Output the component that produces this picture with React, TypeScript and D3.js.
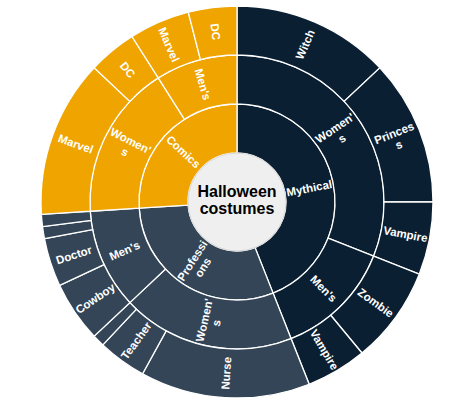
import { useMemo } from "react";
import * as d3 from "d3";

// costume counts (share of 100)
const costumeThemes = ["Mythical", "Mythical", "Mythical", "Mythical", "Mythical", "Professions", "Professions", "Professions", "Professions", "Professions", "Professions", "Professions", "Comics", "Comics", "Comics", "Comics"];
const costumeGenders = ["Women's", "Women's", "Women's", "Men's", "Men's", "Women's", "Women's", "Women's", "Men's", "Men's", "Men's", "Men's", "Women's", "Women's", "Men's", "Men's"];
const costumeNames = ["Witch", "Princess", "Vampire", "Zombie", "Vampire", "Nurse", "Teacher", "Other", "Cowboy", "Doctor", "Other", "Other", "Marvel", "DC", "Marvel", "DC"];
const costumeCounts = [13, 12, 6, 8, 5, 14, 4, 1, 5, 4, 1, 1, 13, 4, 5, 4];

const themeColors: Record<string, string> = {
  Mythical: "#0b1f33",
  Professions: "#334556",
  Comics: "#f0a400",
};

const title = ["Halloween", "costumes"];

const W = 469;
const H = 409;
const cx = 237;
const cy = 202;
const ring = 49;
const fontSize = 11.5;
const lineH = 12.5;
const maxLabel = 47;

type Costume = { theme: string; gender: string; name: string; value: number };

function wrapLabel(text: string, measure: (s: string) => number) {
  const lines: string[] = [];
  let cur = "";
  for (const ch of text) {
    if (cur && measure(cur + ch) > maxLabel) {
      lines.push(cur);
      cur = ch;
    } else cur += ch;
  }
  if (cur) lines.push(cur);
  return lines;
}

export default function App() {
  const nodes = useMemo(() => {
    const rows: Costume[] = costumeNames.map((name, i) => ({
      theme: costumeThemes[i],
      gender: costumeGenders[i],
      name,
      value: costumeCounts[i],
    }));
    const grouped = d3.group(rows, (d) => d.theme, (d) => d.gender);
    const root = d3
      .hierarchy<any>(grouped)
      .sum((d) => (Array.isArray(d) ? 0 : d.value));
    d3.partition<any>().size([2 * Math.PI, 4])(root);
    return root.descendants().filter((d) => d.depth > 0);
  }, []);

  const measure = useMemo(() => {
    const ctx = document.createElement("canvas").getContext("2d")!;
    ctx.font = `bold ${fontSize}px "Liberation Sans", Arial, sans-serif`;
    return (s: string) => ctx.measureText(s).width;
  }, []);

  const arc = d3
    .arc<any>()
    .startAngle((d) => d.x0)
    .endAngle((d) => d.x1)
    .innerRadius((d) => d.y0 * ring)
    .outerRadius((d) => d.y1 * ring);

  const nameOf = (d: any) => (Array.isArray(d.data) ? d.data[0] : d.data.name);
  const themeOf = (d: any) => {
    let n = d;
    while (n.depth > 1) n = n.parent;
    return nameOf(n);
  };

  return (
    <svg
      width={W}
      height={H}
      style={{ position: "absolute", left: 0, top: 0, background: "#fff" }}
      fontFamily='"Liberation Sans", Arial, sans-serif'
    >
      <g transform={`translate(${cx},${cy})`}>
        {nodes.map((d, i) => (
          <path
            key={i}
            d={arc(d) ?? ""}
            fill={themeColors[themeOf(d)]}
            stroke="#fff"
            strokeWidth={1.3}
          />
        ))}
        {nodes.map((d: any, i) => {
          const lines = wrapLabel(nameOf(d), measure);
          const mid = (d.x0 + d.x1) / 2;
          const rMid = ((d.y0 + d.y1) / 2) * ring;
          const arcLen = (d.x1 - d.x0) * rMid;
          if (arcLen < lines.length * lineH) return null;
          const deg = (mid * 180) / Math.PI;
          return (
            <text
              key={i}
              transform={`rotate(${deg - 90}) translate(${rMid},0) rotate(${deg < 180 ? 0 : 180})`}
              textAnchor="middle"
              fill="#fff"
              fontWeight="bold"
              fontSize={fontSize}
            >
              {lines.map((l, j) => (
                <tspan
                  key={j}
                  x={0}
                  y={(j - (lines.length - 1) / 2) * lineH + fontSize * 0.35}
                >
                  {l}
                </tspan>
              ))}
            </text>
          );
        })}
        <circle r={ring} fill="#efefef" stroke="#d6d6d6" strokeWidth={1} />
        <text textAnchor="middle" fontWeight="bold" fontSize={16} fill="#000">
          {title.map((t, j) => (
            <tspan key={j} x={0} y={-5.5 + j * 17.5}>
              {t}
            </tspan>
          ))}
        </text>
      </g>
    </svg>
  );
}
